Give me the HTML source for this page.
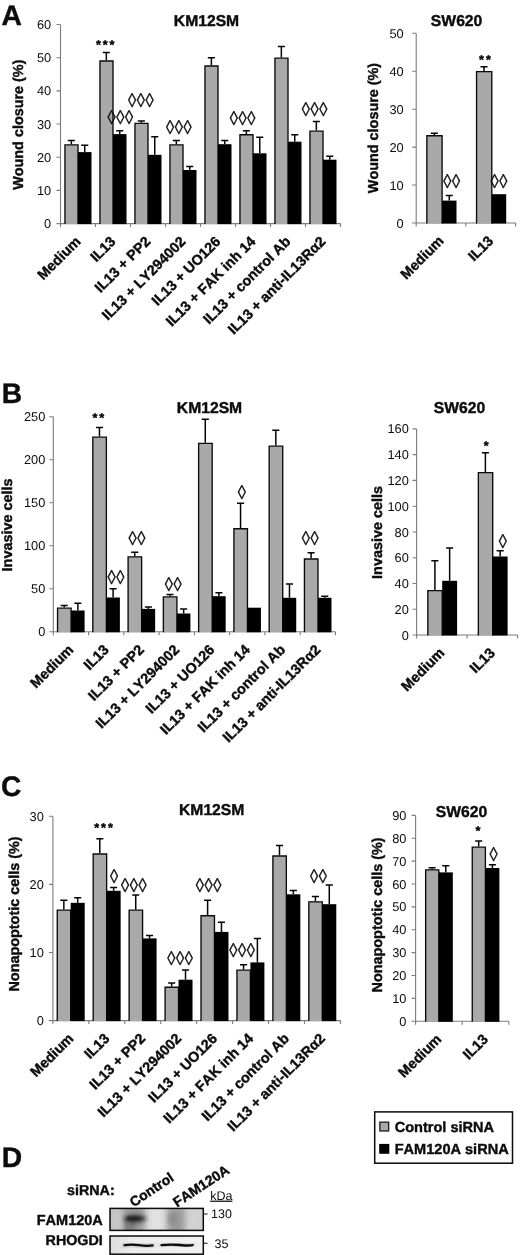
<!DOCTYPE html>
<html lang="en"><head><meta charset="utf-8"><title>Figure</title>
<style>html,body{margin:0;padding:0;background:#fff}svg{display:block}text{font-family:"Liberation Sans", Arial, sans-serif;fill:#0c0c0c;font-kerning:none;text-rendering:geometricPrecision}.dz{letter-spacing:0.6px;stroke:#111;stroke-width:0.3px}.b{font-weight:bold;stroke:#0c0c0c;stroke-width:0.4px}.st{font-weight:bold;fill:#000;stroke:#000;stroke-width:0.4px;letter-spacing:1.9px}</style>
</head><body>
<svg width="520" height="1255" viewBox="0 0 520 1255">
<rect width="520" height="1255" fill="#fff"/>
<text x="1.6" y="25.3" font-size="28.2" class="b">A</text>
<text x="1.8" y="402.8" font-size="28.2" class="b">B</text>
<text x="1.0" y="796.0" font-size="28.2" class="b">C</text>
<text x="1.7" y="1167.4" font-size="28.2" class="b">D</text>
<g>
<path d="M60.50 24.50V227.10M56.50 223.60H340.50M56.50 190.42H60.50M56.50 157.23H60.50M56.50 124.05H60.50M56.50 90.87H60.50M56.50 57.68H60.50M56.50 24.50H60.50M95.50 223.60V227.10M130.50 223.60V227.10M165.50 223.60V227.10M200.50 223.60V227.10M235.50 223.60V227.10M270.50 223.60V227.10M305.50 223.60V227.10M340.50 223.60V227.10" stroke="#7c7c7c" stroke-width="1.1" fill="none"/>
<path d="M64.95 224.10V144.85H78.00V224.10" fill="#a9a9a9" stroke="#0a0a0a" stroke-width="1.35"/>
<rect x="78.00" y="152.10" width="13.50" height="72.00" fill="#000"/>
<path d="M71.35 144.20V140.60M67.80 140.60H74.90" stroke="#050505" stroke-width="1.5" fill="none"/>
<path d="M84.75 152.10V145.30M81.20 145.30H88.30" stroke="#050505" stroke-width="1.5" fill="none"/>
<path d="M99.95 224.10V60.95H113.00V224.10" fill="#a9a9a9" stroke="#0a0a0a" stroke-width="1.35"/>
<rect x="113.00" y="134.10" width="13.50" height="90.00" fill="#000"/>
<path d="M106.35 60.30V52.60M102.80 52.60H109.90" stroke="#050505" stroke-width="1.5" fill="none"/>
<path d="M119.75 134.10V130.70M116.20 130.70H123.30" stroke="#050505" stroke-width="1.5" fill="none"/>
<path d="M134.95 224.10V123.35H148.00V224.10" fill="#a9a9a9" stroke="#0a0a0a" stroke-width="1.35"/>
<rect x="148.00" y="154.80" width="13.50" height="69.30" fill="#000"/>
<path d="M141.35 122.70V121.00M137.80 121.00H144.90" stroke="#050505" stroke-width="1.5" fill="none"/>
<path d="M154.75 154.80V136.80M151.20 136.80H158.30" stroke="#050505" stroke-width="1.5" fill="none"/>
<path d="M169.95 224.10V144.85H183.00V224.10" fill="#a9a9a9" stroke="#0a0a0a" stroke-width="1.35"/>
<rect x="183.00" y="170.00" width="13.50" height="54.10" fill="#000"/>
<path d="M176.35 144.20V140.60M172.80 140.60H179.90" stroke="#050505" stroke-width="1.5" fill="none"/>
<path d="M189.75 170.00V166.40M186.20 166.40H193.30" stroke="#050505" stroke-width="1.5" fill="none"/>
<path d="M204.95 224.10V65.95H218.00V224.10" fill="#a9a9a9" stroke="#0a0a0a" stroke-width="1.35"/>
<rect x="218.00" y="144.20" width="13.50" height="79.90" fill="#000"/>
<path d="M211.35 65.30V57.70M207.80 57.70H214.90" stroke="#050505" stroke-width="1.5" fill="none"/>
<path d="M224.75 144.20V140.60M221.20 140.60H228.30" stroke="#050505" stroke-width="1.5" fill="none"/>
<path d="M239.95 224.10V134.75H253.00V224.10" fill="#a9a9a9" stroke="#0a0a0a" stroke-width="1.35"/>
<rect x="253.00" y="153.30" width="13.50" height="70.80" fill="#000"/>
<path d="M246.35 134.10V130.70M242.80 130.70H249.90" stroke="#050505" stroke-width="1.5" fill="none"/>
<path d="M259.75 153.30V137.30M256.20 137.30H263.30" stroke="#050505" stroke-width="1.5" fill="none"/>
<path d="M274.95 224.10V58.15H288.00V224.10" fill="#a9a9a9" stroke="#0a0a0a" stroke-width="1.35"/>
<rect x="288.00" y="141.70" width="13.50" height="82.40" fill="#000"/>
<path d="M281.35 57.50V46.50M277.80 46.50H284.90" stroke="#050505" stroke-width="1.5" fill="none"/>
<path d="M294.75 141.70V134.70M291.20 134.70H298.30" stroke="#050505" stroke-width="1.5" fill="none"/>
<path d="M309.95 224.10V131.15H323.00V224.10" fill="#a9a9a9" stroke="#0a0a0a" stroke-width="1.35"/>
<rect x="323.00" y="159.70" width="13.50" height="64.40" fill="#000"/>
<path d="M316.35 130.50V121.40M312.80 121.40H319.90" stroke="#050505" stroke-width="1.5" fill="none"/>
<path d="M329.75 159.70V156.30M326.20 156.30H333.30" stroke="#050505" stroke-width="1.5" fill="none"/>
<text x="51.2" y="228.1" text-anchor="end" font-size="12.8">0</text>
<text x="51.2" y="194.9" text-anchor="end" font-size="12.8">10</text>
<text x="51.2" y="161.7" text-anchor="end" font-size="12.8">20</text>
<text x="51.2" y="128.6" text-anchor="end" font-size="12.8">30</text>
<text x="51.2" y="95.4" text-anchor="end" font-size="12.8">40</text>
<text x="51.2" y="62.2" text-anchor="end" font-size="12.8">50</text>
<text x="51.2" y="29.0" text-anchor="end" font-size="12.8">60</text>
<text transform="translate(81.5 242.4) rotate(-45)" text-anchor="end" font-size="14.35" class="b">Medium</text>
<text transform="translate(116.5 242.4) rotate(-45)" text-anchor="end" font-size="14.35" class="b">IL13</text>
<text transform="translate(151.5 242.4) rotate(-45)" text-anchor="end" font-size="14.35" class="b">IL13 + PP2</text>
<text transform="translate(186.5 242.4) rotate(-45)" text-anchor="end" font-size="14.35" class="b">IL13 + LY294002</text>
<text transform="translate(221.5 242.4) rotate(-45)" text-anchor="end" font-size="14.35" class="b">IL13 + UO126</text>
<text transform="translate(256.5 242.4) rotate(-45)" text-anchor="end" font-size="14.35" class="b">IL13 + FAK inh 14</text>
<text transform="translate(291.5 242.4) rotate(-45)" text-anchor="end" font-size="14.35" class="b">IL13 + control Ab</text>
<text transform="translate(326.5 242.4) rotate(-45)" text-anchor="end" font-size="14.35" class="b">IL13 + anti-IL13Rα2</text>
<text x="206.5" y="25.6" text-anchor="middle" font-size="15.7" class="b">KM12SM</text>
<text transform="translate(22.8 124.7) rotate(-90)" text-anchor="middle" font-size="14.4" class="b">Wound closure (%)</text>
<text x="106.2" y="49.0" text-anchor="middle" font-size="12.6" class="st">***</text>
<text transform="translate(120.6 124.0) scale(1 1.2)" text-anchor="middle" font-size="16.5" class="dz">◊◊◊</text>
<text transform="translate(141.1 106.7) scale(1 1.2)" text-anchor="middle" font-size="16.5" class="dz">◊◊◊</text>
<text transform="translate(179.0 133.6) scale(1 1.2)" text-anchor="middle" font-size="16.5" class="dz">◊◊◊</text>
<text transform="translate(242.9 124.5) scale(1 1.2)" text-anchor="middle" font-size="16.5" class="dz">◊◊◊</text>
<text transform="translate(314.9 115.6) scale(1 1.2)" text-anchor="middle" font-size="16.5" class="dz">◊◊◊</text>
</g>
<g>
<path d="M416.20 33.30V226.50M412.20 223.00H515.60M412.20 185.06H416.20M412.20 147.12H416.20M412.20 109.18H416.20M412.20 71.24H416.20M412.20 33.30H416.20M465.90 223.00V226.50M515.60 223.00V226.50" stroke="#7c7c7c" stroke-width="1.1" fill="none"/>
<path d="M426.85 223.50V135.75H442.10V223.50" fill="#a9a9a9" stroke="#0a0a0a" stroke-width="1.35"/>
<rect x="442.10" y="200.60" width="14.40" height="22.90" fill="#000"/>
<path d="M434.35 135.10V133.20M430.80 133.20H437.90" stroke="#050505" stroke-width="1.5" fill="none"/>
<path d="M449.30 200.60V195.50M445.75 195.50H452.85" stroke="#050505" stroke-width="1.5" fill="none"/>
<path d="M476.55 223.50V71.65H491.80V223.50" fill="#a9a9a9" stroke="#0a0a0a" stroke-width="1.35"/>
<rect x="491.80" y="194.20" width="14.40" height="29.30" fill="#000"/>
<path d="M484.05 71.00V66.80M480.50 66.80H487.60" stroke="#050505" stroke-width="1.5" fill="none"/>
<text x="403.7" y="227.5" text-anchor="end" font-size="12.8">0</text>
<text x="403.7" y="189.6" text-anchor="end" font-size="12.8">10</text>
<text x="403.7" y="151.6" text-anchor="end" font-size="12.8">20</text>
<text x="403.7" y="113.7" text-anchor="end" font-size="12.8">30</text>
<text x="403.7" y="75.7" text-anchor="end" font-size="12.8">40</text>
<text x="403.7" y="37.8" text-anchor="end" font-size="12.8">50</text>
<text transform="translate(444.6 241.8) rotate(-45)" text-anchor="end" font-size="14.35" class="b">Medium</text>
<text transform="translate(494.2 241.8) rotate(-45)" text-anchor="end" font-size="14.35" class="b">IL13</text>
<text x="456.6" y="25.5" text-anchor="middle" font-size="15.7" class="b">SW620</text>
<text transform="translate(377.5 128.0) rotate(-90)" text-anchor="middle" font-size="14.4" class="b">Wound closure (%)</text>
<text x="485.9" y="64.0" text-anchor="middle" font-size="12.6" class="st">**</text>
<text transform="translate(452.0 187.8) scale(1 1.2)" text-anchor="middle" font-size="16.5" class="dz">◊◊</text>
<text transform="translate(499.2 187.8) scale(1 1.2)" text-anchor="middle" font-size="16.5" class="dz">◊◊</text>
</g>
<g>
<path d="M53.30 416.80V635.30M49.30 631.80H335.46M49.30 588.80H53.30M49.30 545.80H53.30M49.30 502.80H53.30M49.30 459.80H53.30M49.30 416.80H53.30M88.57 631.80V635.30M123.84 631.80V635.30M159.11 631.80V635.30M194.38 631.80V635.30M229.65 631.80V635.30M264.92 631.80V635.30M300.19 631.80V635.30M335.46 631.80V635.30" stroke="#7c7c7c" stroke-width="1.1" fill="none"/>
<path d="M57.55 632.30V608.15H71.10V632.30" fill="#a9a9a9" stroke="#0a0a0a" stroke-width="1.35"/>
<rect x="71.10" y="610.50" width="13.50" height="21.80" fill="#000"/>
<path d="M64.20 607.50V605.50M60.65 605.50H67.75" stroke="#050505" stroke-width="1.5" fill="none"/>
<path d="M77.85 610.50V603.30M74.30 603.30H81.40" stroke="#050505" stroke-width="1.5" fill="none"/>
<path d="M92.82 632.30V437.15H106.37V632.30" fill="#a9a9a9" stroke="#0a0a0a" stroke-width="1.35"/>
<rect x="106.37" y="597.50" width="13.50" height="34.80" fill="#000"/>
<path d="M99.47 436.50V427.50M95.92 427.50H103.02" stroke="#050505" stroke-width="1.5" fill="none"/>
<path d="M113.12 597.50V588.80M109.57 588.80H116.67" stroke="#050505" stroke-width="1.5" fill="none"/>
<path d="M128.09 632.30V556.85H141.64V632.30" fill="#a9a9a9" stroke="#0a0a0a" stroke-width="1.35"/>
<rect x="141.64" y="608.90" width="13.50" height="23.40" fill="#000"/>
<path d="M134.74 556.20V552.30M131.19 552.30H138.29" stroke="#050505" stroke-width="1.5" fill="none"/>
<path d="M148.39 608.90V607.00M144.84 607.00H151.94" stroke="#050505" stroke-width="1.5" fill="none"/>
<path d="M163.36 632.30V596.85H176.91V632.30" fill="#a9a9a9" stroke="#0a0a0a" stroke-width="1.35"/>
<rect x="176.91" y="613.50" width="13.50" height="18.80" fill="#000"/>
<path d="M170.01 596.20V594.50M166.46 594.50H173.56" stroke="#050505" stroke-width="1.5" fill="none"/>
<path d="M183.66 613.50V608.90M180.11 608.90H187.21" stroke="#050505" stroke-width="1.5" fill="none"/>
<path d="M198.63 632.30V443.35H212.18V632.30" fill="#a9a9a9" stroke="#0a0a0a" stroke-width="1.35"/>
<rect x="212.18" y="596.20" width="13.50" height="36.10" fill="#000"/>
<path d="M205.28 442.70V419.20M201.73 419.20H208.83" stroke="#050505" stroke-width="1.5" fill="none"/>
<path d="M218.93 596.20V592.70M215.38 592.70H222.48" stroke="#050505" stroke-width="1.5" fill="none"/>
<path d="M233.90 632.30V528.75H247.45V632.30" fill="#a9a9a9" stroke="#0a0a0a" stroke-width="1.35"/>
<rect x="247.45" y="607.70" width="13.50" height="24.60" fill="#000"/>
<path d="M240.55 528.10V503.20M237.00 503.20H244.10" stroke="#050505" stroke-width="1.5" fill="none"/>
<path d="M269.17 632.30V446.15H282.72V632.30" fill="#a9a9a9" stroke="#0a0a0a" stroke-width="1.35"/>
<rect x="282.72" y="597.80" width="13.50" height="34.50" fill="#000"/>
<path d="M275.82 445.50V430.20M272.27 430.20H279.37" stroke="#050505" stroke-width="1.5" fill="none"/>
<path d="M289.47 597.80V583.90M285.92 583.90H293.02" stroke="#050505" stroke-width="1.5" fill="none"/>
<path d="M304.44 632.30V558.95H317.99V632.30" fill="#a9a9a9" stroke="#0a0a0a" stroke-width="1.35"/>
<rect x="317.99" y="597.80" width="13.50" height="34.50" fill="#000"/>
<path d="M311.09 558.30V552.80M307.54 552.80H314.64" stroke="#050505" stroke-width="1.5" fill="none"/>
<path d="M324.74 597.80V596.20M321.19 596.20H328.29" stroke="#050505" stroke-width="1.5" fill="none"/>
<text x="45.3" y="636.3" text-anchor="end" font-size="12.8">0</text>
<text x="45.3" y="593.3" text-anchor="end" font-size="12.8">50</text>
<text x="45.3" y="550.3" text-anchor="end" font-size="12.8">100</text>
<text x="45.3" y="507.3" text-anchor="end" font-size="12.8">150</text>
<text x="45.3" y="464.3" text-anchor="end" font-size="12.8">200</text>
<text x="45.3" y="421.3" text-anchor="end" font-size="12.8">250</text>
<text transform="translate(74.4 650.6) rotate(-45)" text-anchor="end" font-size="14.35" class="b">Medium</text>
<text transform="translate(109.7 650.6) rotate(-45)" text-anchor="end" font-size="14.35" class="b">IL13</text>
<text transform="translate(145.0 650.6) rotate(-45)" text-anchor="end" font-size="14.35" class="b">IL13 + PP2</text>
<text transform="translate(180.2 650.6) rotate(-45)" text-anchor="end" font-size="14.35" class="b">IL13 + LY294002</text>
<text transform="translate(215.5 650.6) rotate(-45)" text-anchor="end" font-size="14.35" class="b">IL13 + UO126</text>
<text transform="translate(250.8 650.6) rotate(-45)" text-anchor="end" font-size="14.35" class="b">IL13 + FAK inh 14</text>
<text transform="translate(286.1 650.6) rotate(-45)" text-anchor="end" font-size="14.35" class="b">IL13 + control Ab</text>
<text transform="translate(321.3 650.6) rotate(-45)" text-anchor="end" font-size="14.35" class="b">IL13 + anti-IL13Rα2</text>
<text x="209.5" y="412.5" text-anchor="middle" font-size="15.7" class="b">KM12SM</text>
<text transform="translate(12.0 525.0) rotate(-90)" text-anchor="middle" font-size="14.4" class="b">Invasive cells</text>
<text x="99.2" y="422.2" text-anchor="middle" font-size="12.6" class="st">**</text>
<text transform="translate(116.3 584.0) scale(1 1.2)" text-anchor="middle" font-size="16.5" class="dz">◊◊</text>
<text transform="translate(137.2 545.1) scale(1 1.2)" text-anchor="middle" font-size="16.5" class="dz">◊◊</text>
<text transform="translate(173.5 590.5) scale(1 1.2)" text-anchor="middle" font-size="16.5" class="dz">◊◊</text>
<text transform="translate(242.2 499.1) scale(1 1.2)" text-anchor="middle" font-size="16.5" class="dz">◊</text>
<text transform="translate(310.6 545.1) scale(1 1.2)" text-anchor="middle" font-size="16.5" class="dz">◊◊</text>
</g>
<g>
<path d="M416.60 428.90V638.50M412.60 635.00H517.60M412.60 609.24H416.60M412.60 583.48H416.60M412.60 557.71H416.60M412.60 531.95H416.60M412.60 506.19H416.60M412.60 480.42H416.60M412.60 454.66H416.60M412.60 428.90H416.60M467.10 635.00V638.50M517.60 635.00V638.50" stroke="#7c7c7c" stroke-width="1.1" fill="none"/>
<path d="M427.85 635.50V590.65H442.20V635.50" fill="#a9a9a9" stroke="#0a0a0a" stroke-width="1.35"/>
<rect x="442.20" y="580.80" width="14.90" height="54.70" fill="#000"/>
<path d="M434.90 590.00V560.70M431.35 560.70H438.45" stroke="#050505" stroke-width="1.5" fill="none"/>
<path d="M449.65 580.80V548.00M446.10 548.00H453.20" stroke="#050505" stroke-width="1.5" fill="none"/>
<path d="M478.35 635.50V472.55H492.70V635.50" fill="#a9a9a9" stroke="#0a0a0a" stroke-width="1.35"/>
<rect x="492.70" y="556.50" width="14.90" height="79.00" fill="#000"/>
<path d="M485.40 471.90V452.70M481.85 452.70H488.95" stroke="#050505" stroke-width="1.5" fill="none"/>
<path d="M500.15 556.50V550.80M496.60 550.80H503.70" stroke="#050505" stroke-width="1.5" fill="none"/>
<text x="408.8" y="639.5" text-anchor="end" font-size="12.8">0</text>
<text x="408.8" y="613.7" text-anchor="end" font-size="12.8">20</text>
<text x="408.8" y="588.0" text-anchor="end" font-size="12.8">40</text>
<text x="408.8" y="562.2" text-anchor="end" font-size="12.8">60</text>
<text x="408.8" y="536.5" text-anchor="end" font-size="12.8">80</text>
<text x="408.8" y="510.7" text-anchor="end" font-size="12.8">100</text>
<text x="408.8" y="484.9" text-anchor="end" font-size="12.8">120</text>
<text x="408.8" y="459.2" text-anchor="end" font-size="12.8">140</text>
<text x="408.8" y="433.4" text-anchor="end" font-size="12.8">160</text>
<text transform="translate(445.4 653.8) rotate(-45)" text-anchor="end" font-size="14.35" class="b">Medium</text>
<text transform="translate(495.9 653.8) rotate(-45)" text-anchor="end" font-size="14.35" class="b">IL13</text>
<text x="459.4" y="412.9" text-anchor="middle" font-size="15.7" class="b">SW620</text>
<text transform="translate(381.5 532.5) rotate(-90)" text-anchor="middle" font-size="14.4" class="b">Invasive cells</text>
<text x="487.1" y="450.4" text-anchor="middle" font-size="12.6" class="st">*</text>
<text transform="translate(503.2 548.4) scale(1 1.2)" text-anchor="middle" font-size="16.5" class="dz">◊</text>
</g>
<g>
<path d="M52.90 816.30V1024.10M48.90 1020.60H340.42M48.90 952.50H52.90M48.90 884.40H52.90M48.90 816.30H52.90M88.84 1020.60V1024.10M124.78 1020.60V1024.10M160.72 1020.60V1024.10M196.66 1020.60V1024.10M232.60 1020.60V1024.10M268.54 1020.60V1024.10M304.48 1020.60V1024.10M340.42 1020.60V1024.10" stroke="#7c7c7c" stroke-width="1.1" fill="none"/>
<path d="M57.25 1021.10V910.15H70.70V1021.10" fill="#a9a9a9" stroke="#0a0a0a" stroke-width="1.35"/>
<rect x="70.70" y="902.80" width="14.00" height="118.30" fill="#000"/>
<path d="M63.85 909.50V900.30M60.30 900.30H67.40" stroke="#050505" stroke-width="1.5" fill="none"/>
<path d="M77.70 902.80V897.80M74.15 897.80H81.25" stroke="#050505" stroke-width="1.5" fill="none"/>
<path d="M93.19 1021.10V853.95H106.64V1021.10" fill="#a9a9a9" stroke="#0a0a0a" stroke-width="1.35"/>
<rect x="106.64" y="890.80" width="14.00" height="130.30" fill="#000"/>
<path d="M99.79 853.30V838.80M96.24 838.80H103.34" stroke="#050505" stroke-width="1.5" fill="none"/>
<path d="M113.64 890.80V887.50M110.09 887.50H117.19" stroke="#050505" stroke-width="1.5" fill="none"/>
<path d="M129.13 1021.10V910.15H142.58V1021.10" fill="#a9a9a9" stroke="#0a0a0a" stroke-width="1.35"/>
<rect x="142.58" y="938.40" width="14.00" height="82.70" fill="#000"/>
<path d="M135.73 909.50V895.00M132.18 895.00H139.28" stroke="#050505" stroke-width="1.5" fill="none"/>
<path d="M149.58 938.40V935.40M146.03 935.40H153.13" stroke="#050505" stroke-width="1.5" fill="none"/>
<path d="M165.07 1021.10V987.25H178.52V1021.10" fill="#a9a9a9" stroke="#0a0a0a" stroke-width="1.35"/>
<rect x="178.52" y="979.70" width="14.00" height="41.40" fill="#000"/>
<path d="M171.67 986.60V982.90M168.12 982.90H175.22" stroke="#050505" stroke-width="1.5" fill="none"/>
<path d="M185.52 979.70V970.00M181.97 970.00H189.07" stroke="#050505" stroke-width="1.5" fill="none"/>
<path d="M201.01 1021.10V915.75H214.46V1021.10" fill="#a9a9a9" stroke="#0a0a0a" stroke-width="1.35"/>
<rect x="214.46" y="931.90" width="14.00" height="89.20" fill="#000"/>
<path d="M207.61 915.10V900.30M204.06 900.30H211.16" stroke="#050505" stroke-width="1.5" fill="none"/>
<path d="M221.46 931.90V922.20M217.91 922.20H225.01" stroke="#050505" stroke-width="1.5" fill="none"/>
<path d="M236.95 1021.10V970.15H250.40V1021.10" fill="#a9a9a9" stroke="#0a0a0a" stroke-width="1.35"/>
<rect x="250.40" y="962.40" width="14.00" height="58.70" fill="#000"/>
<path d="M243.55 969.50V964.70M240.00 964.70H247.10" stroke="#050505" stroke-width="1.5" fill="none"/>
<path d="M257.40 962.40V938.40M253.85 938.40H260.95" stroke="#050505" stroke-width="1.5" fill="none"/>
<path d="M272.89 1021.10V855.95H286.34V1021.10" fill="#a9a9a9" stroke="#0a0a0a" stroke-width="1.35"/>
<rect x="286.34" y="894.30" width="14.00" height="126.80" fill="#000"/>
<path d="M279.49 855.30V845.40M275.94 845.40H283.04" stroke="#050505" stroke-width="1.5" fill="none"/>
<path d="M293.34 894.30V890.60M289.79 890.60H296.89" stroke="#050505" stroke-width="1.5" fill="none"/>
<path d="M308.83 1021.10V901.85H322.28V1021.10" fill="#a9a9a9" stroke="#0a0a0a" stroke-width="1.35"/>
<rect x="322.28" y="904.20" width="14.00" height="116.90" fill="#000"/>
<path d="M315.43 901.20V896.60M311.88 896.60H318.98" stroke="#050505" stroke-width="1.5" fill="none"/>
<path d="M329.28 904.20V885.10M325.73 885.10H332.83" stroke="#050505" stroke-width="1.5" fill="none"/>
<text x="43.8" y="1025.1" text-anchor="end" font-size="12.8">0</text>
<text x="43.8" y="957.0" text-anchor="end" font-size="12.8">10</text>
<text x="43.8" y="888.9" text-anchor="end" font-size="12.8">20</text>
<text x="43.8" y="820.8" text-anchor="end" font-size="12.8">30</text>
<text transform="translate(74.4 1039.4) rotate(-45)" text-anchor="end" font-size="14.35" class="b">Medium</text>
<text transform="translate(110.3 1039.4) rotate(-45)" text-anchor="end" font-size="14.35" class="b">IL13</text>
<text transform="translate(146.2 1039.4) rotate(-45)" text-anchor="end" font-size="14.35" class="b">IL13 + PP2</text>
<text transform="translate(182.2 1039.4) rotate(-45)" text-anchor="end" font-size="14.35" class="b">IL13 + LY294002</text>
<text transform="translate(218.1 1039.4) rotate(-45)" text-anchor="end" font-size="14.35" class="b">IL13 + UO126</text>
<text transform="translate(254.1 1039.4) rotate(-45)" text-anchor="end" font-size="14.35" class="b">IL13 + FAK inh 14</text>
<text transform="translate(290.0 1039.4) rotate(-45)" text-anchor="end" font-size="14.35" class="b">IL13 + control Ab</text>
<text transform="translate(325.9 1039.4) rotate(-45)" text-anchor="end" font-size="14.35" class="b">IL13 + anti-IL13Rα2</text>
<text x="211.7" y="815.4" text-anchor="middle" font-size="15.7" class="b">KM12SM</text>
<text transform="translate(19.0 914.0) rotate(-90)" text-anchor="middle" font-size="14.4" class="b">Nonapoptotic cells (%)</text>
<text x="104.5" y="832.4" text-anchor="middle" font-size="12.6" class="st">***</text>
<text transform="translate(114.3 883.1) scale(1 1.2)" text-anchor="middle" font-size="16.5" class="dz">◊</text>
<text transform="translate(134.2 891.9) scale(1 1.2)" text-anchor="middle" font-size="16.5" class="dz">◊◊◊</text>
<text transform="translate(180.4 965.3) scale(1 1.2)" text-anchor="middle" font-size="16.5" class="dz">◊◊◊</text>
<text transform="translate(208.8 892.4) scale(1 1.2)" text-anchor="middle" font-size="16.5" class="dz">◊◊◊</text>
<text transform="translate(242.4 956.5) scale(1 1.2)" text-anchor="middle" font-size="16.5" class="dz">◊◊◊</text>
<text transform="translate(318.7 883.2) scale(1 1.2)" text-anchor="middle" font-size="16.5" class="dz">◊◊</text>
</g>
<g>
<path d="M415.60 815.40V1024.80M411.60 1021.30H508.80M411.60 998.42H415.60M411.60 975.54H415.60M411.60 952.67H415.60M411.60 929.79H415.60M411.60 906.91H415.60M411.60 884.03H415.60M411.60 861.16H415.60M411.60 838.28H415.60M411.60 815.40H415.60M462.20 1021.30V1024.80M508.80 1021.30V1024.80" stroke="#7c7c7c" stroke-width="1.1" fill="none"/>
<path d="M425.65 1021.80V869.85H438.80V1021.80" fill="#a9a9a9" stroke="#0a0a0a" stroke-width="1.35"/>
<rect x="438.80" y="872.40" width="14.00" height="149.40" fill="#000"/>
<path d="M432.10 869.20V867.80M428.55 867.80H435.65" stroke="#050505" stroke-width="1.5" fill="none"/>
<path d="M445.80 872.40V865.70M442.25 865.70H449.35" stroke="#050505" stroke-width="1.5" fill="none"/>
<path d="M472.25 1021.80V847.15H485.40V1021.80" fill="#a9a9a9" stroke="#0a0a0a" stroke-width="1.35"/>
<rect x="485.40" y="868.00" width="14.00" height="153.80" fill="#000"/>
<path d="M478.70 846.50V841.00M475.15 841.00H482.25" stroke="#050505" stroke-width="1.5" fill="none"/>
<path d="M492.40 868.00V864.80M488.85 864.80H495.95" stroke="#050505" stroke-width="1.5" fill="none"/>
<text x="406.4" y="1025.8" text-anchor="end" font-size="12.8">0</text>
<text x="406.4" y="1002.9" text-anchor="end" font-size="12.8">10</text>
<text x="406.4" y="980.0" text-anchor="end" font-size="12.8">20</text>
<text x="406.4" y="957.2" text-anchor="end" font-size="12.8">30</text>
<text x="406.4" y="934.3" text-anchor="end" font-size="12.8">40</text>
<text x="406.4" y="911.4" text-anchor="end" font-size="12.8">50</text>
<text x="406.4" y="888.5" text-anchor="end" font-size="12.8">60</text>
<text x="406.4" y="865.7" text-anchor="end" font-size="12.8">70</text>
<text x="406.4" y="842.8" text-anchor="end" font-size="12.8">80</text>
<text x="406.4" y="819.9" text-anchor="end" font-size="12.8">90</text>
<text transform="translate(442.4 1040.1) rotate(-45)" text-anchor="end" font-size="14.35" class="b">Medium</text>
<text transform="translate(489.0 1040.1) rotate(-45)" text-anchor="end" font-size="14.35" class="b">IL13</text>
<text x="461.5" y="816.5" text-anchor="middle" font-size="15.7" class="b">SW620</text>
<text transform="translate(382.1 914.9) rotate(-90)" text-anchor="middle" font-size="14.4" class="b">Nonapoptotic cells (%)</text>
<text x="478.9" y="835.2" text-anchor="middle" font-size="12.6" class="st">*</text>
<text transform="translate(493.9 860.8) scale(1 1.2)" text-anchor="middle" font-size="16.5" class="dz">◊</text>
</g>
<g>
<rect x="374.7" y="1111.9" width="137.8" height="51.3" fill="#fff" stroke="#0a0a0a" stroke-width="1.5"/>
<rect x="379.85" y="1122.15" width="8.8" height="8.8" fill="#a9a9a9" stroke="#1a1a1a" stroke-width="1.3"/>
<rect x="379.2" y="1143.9" width="10.1" height="9.9" fill="#000"/>
<text x="394.7" y="1131.6" font-size="14.55" class="b">Control siRNA</text>
<text x="394.7" y="1153.6" font-size="14.55" class="b">FAM120A siRNA</text>
</g>
<defs><filter id="bl1" x="-50%" y="-100%" width="200%" height="300%"><feGaussianBlur stdDeviation="1.6"/></filter><filter id="bl2" x="-50%" y="-100%" width="200%" height="300%"><feGaussianBlur stdDeviation="0.9"/></filter><filter id="bl3" x="-50%" y="-100%" width="200%" height="300%"><feGaussianBlur stdDeviation="3"/></filter><filter id="bl5" x="-50%" y="-100%" width="200%" height="300%"><feGaussianBlur stdDeviation="2"/></filter><filter id="bl4" x="-50%" y="-300%" width="200%" height="700%"><feGaussianBlur stdDeviation="0.55"/></filter><clipPath id="c1"><rect x="110" y="1208.4" width="93.3" height="22"/></clipPath><clipPath id="c2"><rect x="110" y="1236" width="93.3" height="18.2"/></clipPath></defs>
<g>
<text x="67" y="1195" font-size="14.3" class="b">siRNA:</text>
<text x="102.8" y="1224.5" text-anchor="end" font-size="14.5" class="b">FAM120A</text>
<text x="102.8" y="1245" text-anchor="end" font-size="14.3" class="b">RHOGDI</text>
<text transform="translate(133.8 1207.5) rotate(-34.2)" font-size="13.9" class="b">Control</text>
<text transform="translate(177.0 1207.4) rotate(-33.2)" font-size="14.0" class="b">FAM120A</text>
<text x="210.2" y="1199.6" font-size="12.5" text-decoration="underline">kDa</text>
<text x="211" y="1218.3" font-size="12.5">130</text>
<text x="214.6" y="1248.3" font-size="12.5">35</text>
<linearGradient id="g1" x1="0" x2="1" y1="0" y2="0"><stop offset="0" stop-color="#c2c2c2"/><stop offset="0.12" stop-color="#cdcdcd"/><stop offset="0.5" stop-color="#e3e3e3"/><stop offset="0.62" stop-color="#dcdcdc"/><stop offset="1" stop-color="#cfcfcf"/></linearGradient>
<linearGradient id="g2" x1="0" x2="1" y1="0" y2="0"><stop offset="0" stop-color="#dcdcdc"/><stop offset="0.25" stop-color="#ececec"/><stop offset="1" stop-color="#f1f1f1"/></linearGradient>
<rect x="110" y="1208.4" width="93.3" height="22" fill="url(#g1)"/>
<g clip-path="url(#c1)">
<rect x="123" y="1204" width="22" height="30" fill="#8a8a8a" opacity="0.8" filter="url(#bl3)"/>
<rect x="124.5" y="1220" width="11" height="12" fill="#6a6a6a" opacity="0.6" filter="url(#bl1)"/>
<rect x="167" y="1206" width="18" height="30" fill="#858585" opacity="0.75" filter="url(#bl3)"/>
<ellipse cx="135" cy="1218.6" rx="11" ry="3.4" fill="#222" filter="url(#bl5)"/>
<ellipse cx="132.5" cy="1218.4" rx="6.5" ry="2" fill="#151515" filter="url(#bl2)" opacity="0.55"/>
<ellipse cx="172.5" cy="1219" rx="5" ry="6" fill="#888" opacity="0.6" filter="url(#bl1)"/>
</g>
<rect x="110" y="1208.4" width="93.3" height="22" fill="none" stroke="#0a0a0a" stroke-width="1.5"/>
<rect x="110" y="1236" width="93.3" height="18.2" fill="url(#g2)"/>
<g clip-path="url(#c2)">
<path d="M124.5 1245.2Q131 1244 139 1245.2T152.6 1245.4" stroke="#8a8a8a" stroke-width="5" fill="none" stroke-linecap="round" opacity="0.35" filter="url(#bl1)"/>
<path d="M161.5 1245.2Q170 1244 180 1245T192.6 1245" stroke="#8a8a8a" stroke-width="5" fill="none" stroke-linecap="round" opacity="0.35" filter="url(#bl1)"/>
<path d="M124.5 1245.2Q131 1244 139 1245.2T152.6 1245.4" stroke="#101010" stroke-width="2.3" fill="none" stroke-linecap="round" filter="url(#bl4)"/>
<path d="M161.5 1245.2Q170 1244 180 1245T192.6 1245" stroke="#101010" stroke-width="2.3" fill="none" stroke-linecap="round" filter="url(#bl4)"/>
</g>
<rect x="110" y="1236" width="93.3" height="18.2" fill="none" stroke="#0a0a0a" stroke-width="1.5"/>
<path d="M203.3 1214H207.6M203.3 1243.3H207.6" stroke="#111" stroke-width="1.1"/>
</g>
</svg></body></html>
